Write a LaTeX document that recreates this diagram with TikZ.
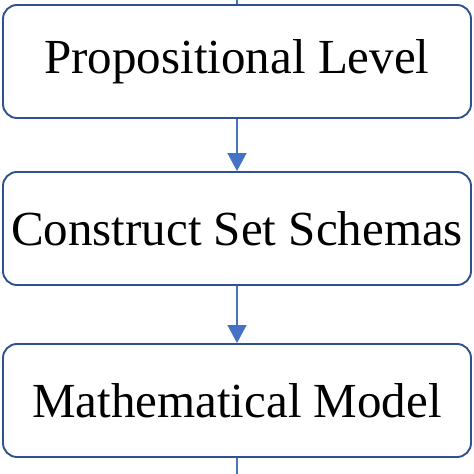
\documentclass[tikz,border=0pt]{standalone}
\usepackage{fontspec}
\setmainfont{Liberation Serif}
\usetikzlibrary{arrows.meta}
\definecolor{boxblue}{RGB}{47,82,143}
\definecolor{arrowblue}{RGB}{68,114,196}
\begin{document}
\begin{tikzpicture}[x=1pt,y=1pt,
    stage/.style={draw=boxblue, line width=1.9pt, rounded corners=14pt, fill=white,
      minimum width=468pt, minimum height=113pt, inner sep=0pt,
      font=\fontsize{49}{58}\selectfont},
    flow/.style={draw=arrowblue, line width=1.4pt, -{Triangle[length=18pt,width=19pt]}}]
    \useasboundingbox (0,0) rectangle (474,474);
    % the three stages
    \node[stage] (prop) at (237,412.5) {Propositional Level};
    \node[stage] (cons) at (237,245.5) {Construct Set Schemas};
    \node[stage] (math) at (237,73.5) {Mathematical Model};
    % lines running off the picture
    \coordinate (top) at (237,474);
    \coordinate (bot) at (237,0);
    \draw[flow, -] (top) -- (prop);
    \draw[flow] (prop) -- (cons);
    \draw[flow] (cons) -- (math);
    \draw[flow, -] (math) -- (bot);
\end{tikzpicture}
\end{document}
